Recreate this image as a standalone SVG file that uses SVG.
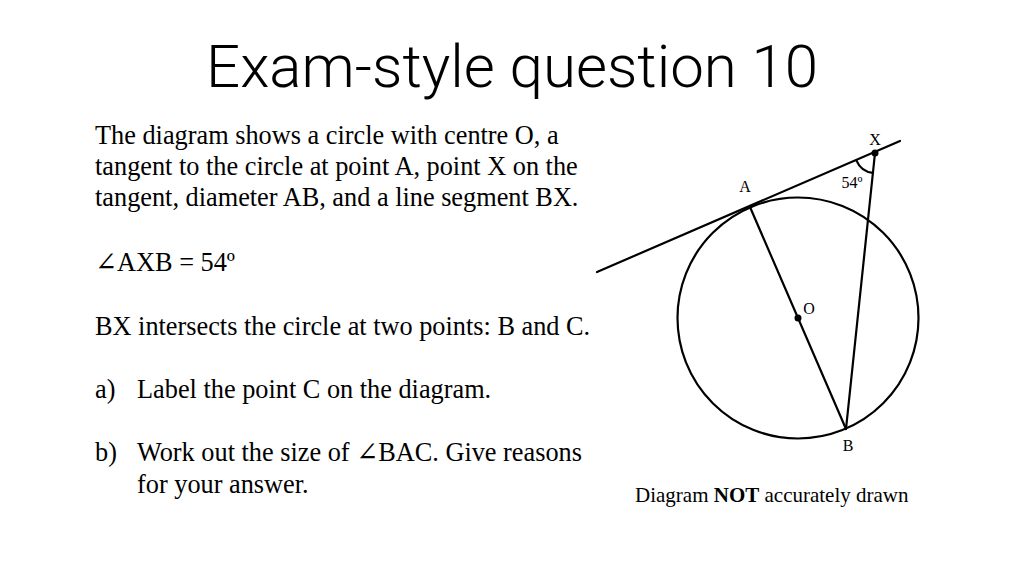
<svg xmlns="http://www.w3.org/2000/svg" width="1024" height="576" viewBox="0 0 1024 576">
<style>
.title{font-family:Roboto,"Liberation Sans",sans-serif;font-weight:300;font-size:60px;fill:#000}
.body{font-family:"Liberation Serif","DejaVu Serif",serif;font-size:26.3px;fill:#000}
.lbl{font-family:"Liberation Serif","DejaVu Serif",serif;font-size:16px;fill:#000}
.note{font-family:"Liberation Serif","DejaVu Serif",serif;font-size:21px;fill:#000}
.ln{stroke:#000;stroke-width:2.2;fill:none;stroke-linecap:round}
</style>
<rect width="1024" height="576" fill="#fff"/>
<text class="title" x="512" y="87" text-anchor="middle" textLength="612" lengthAdjust="spacingAndGlyphs">Exam-style question 10</text>
<g id="question">
<text class="body" x="95" y="144">The diagram shows a circle with centre O, a</text>
<text class="body" x="95" y="175">tangent to the circle at point A, point X on the</text>
<text class="body" x="95" y="206">tangent, diameter AB, and a line segment BX.</text>
<text class="body" x="95" y="271">∠AXB = 54º</text>
<text class="body" x="95" y="335">BX intersects the circle at two points: B and C.</text>
<text class="body" x="95" y="398">a)</text>
<text class="body" x="137" y="398">Label the point C on the diagram.</text>
<text class="body" x="95" y="461">b)</text>
<text class="body" x="137" y="461">Work out the size of ∠BAC. Give reasons</text>
<text class="body" x="137" y="493">for your answer.</text>
</g>
<g id="circle"><circle class="ln" cx="798" cy="318" r="120.5"/></g>
<g id="connectors">
<line class="ln" x1="597" y1="272" x2="900" y2="141"/>
<line class="ln" x1="750" y1="207" x2="846" y2="429"/>
<line class="ln" x1="875" y1="153" x2="846" y2="429"/>
<path class="ln" stroke-width="1.5" d="M856.6 160.9 A20 20 0 0 0 872.9 172.9"/>
</g>
<g id="point-X"><circle cx="875" cy="153" r="3.5" fill="#000"/><text class="lbl" x="875" y="145" text-anchor="middle">X</text></g>
<g id="point-A"><text class="lbl" x="745" y="192" text-anchor="middle">A</text></g>
<g id="point-O"><circle cx="798" cy="318" r="3.5" fill="#000"/><text class="lbl" x="809" y="314" text-anchor="middle">O</text></g>
<g id="point-B"><text class="lbl" x="848" y="451" text-anchor="middle">B</text></g>
<text class="lbl" x="852" y="188" text-anchor="middle">54º</text>
<text class="note" x="635" y="502">Diagram <tspan font-weight="bold">NOT</tspan> accurately drawn</text>
</svg>
